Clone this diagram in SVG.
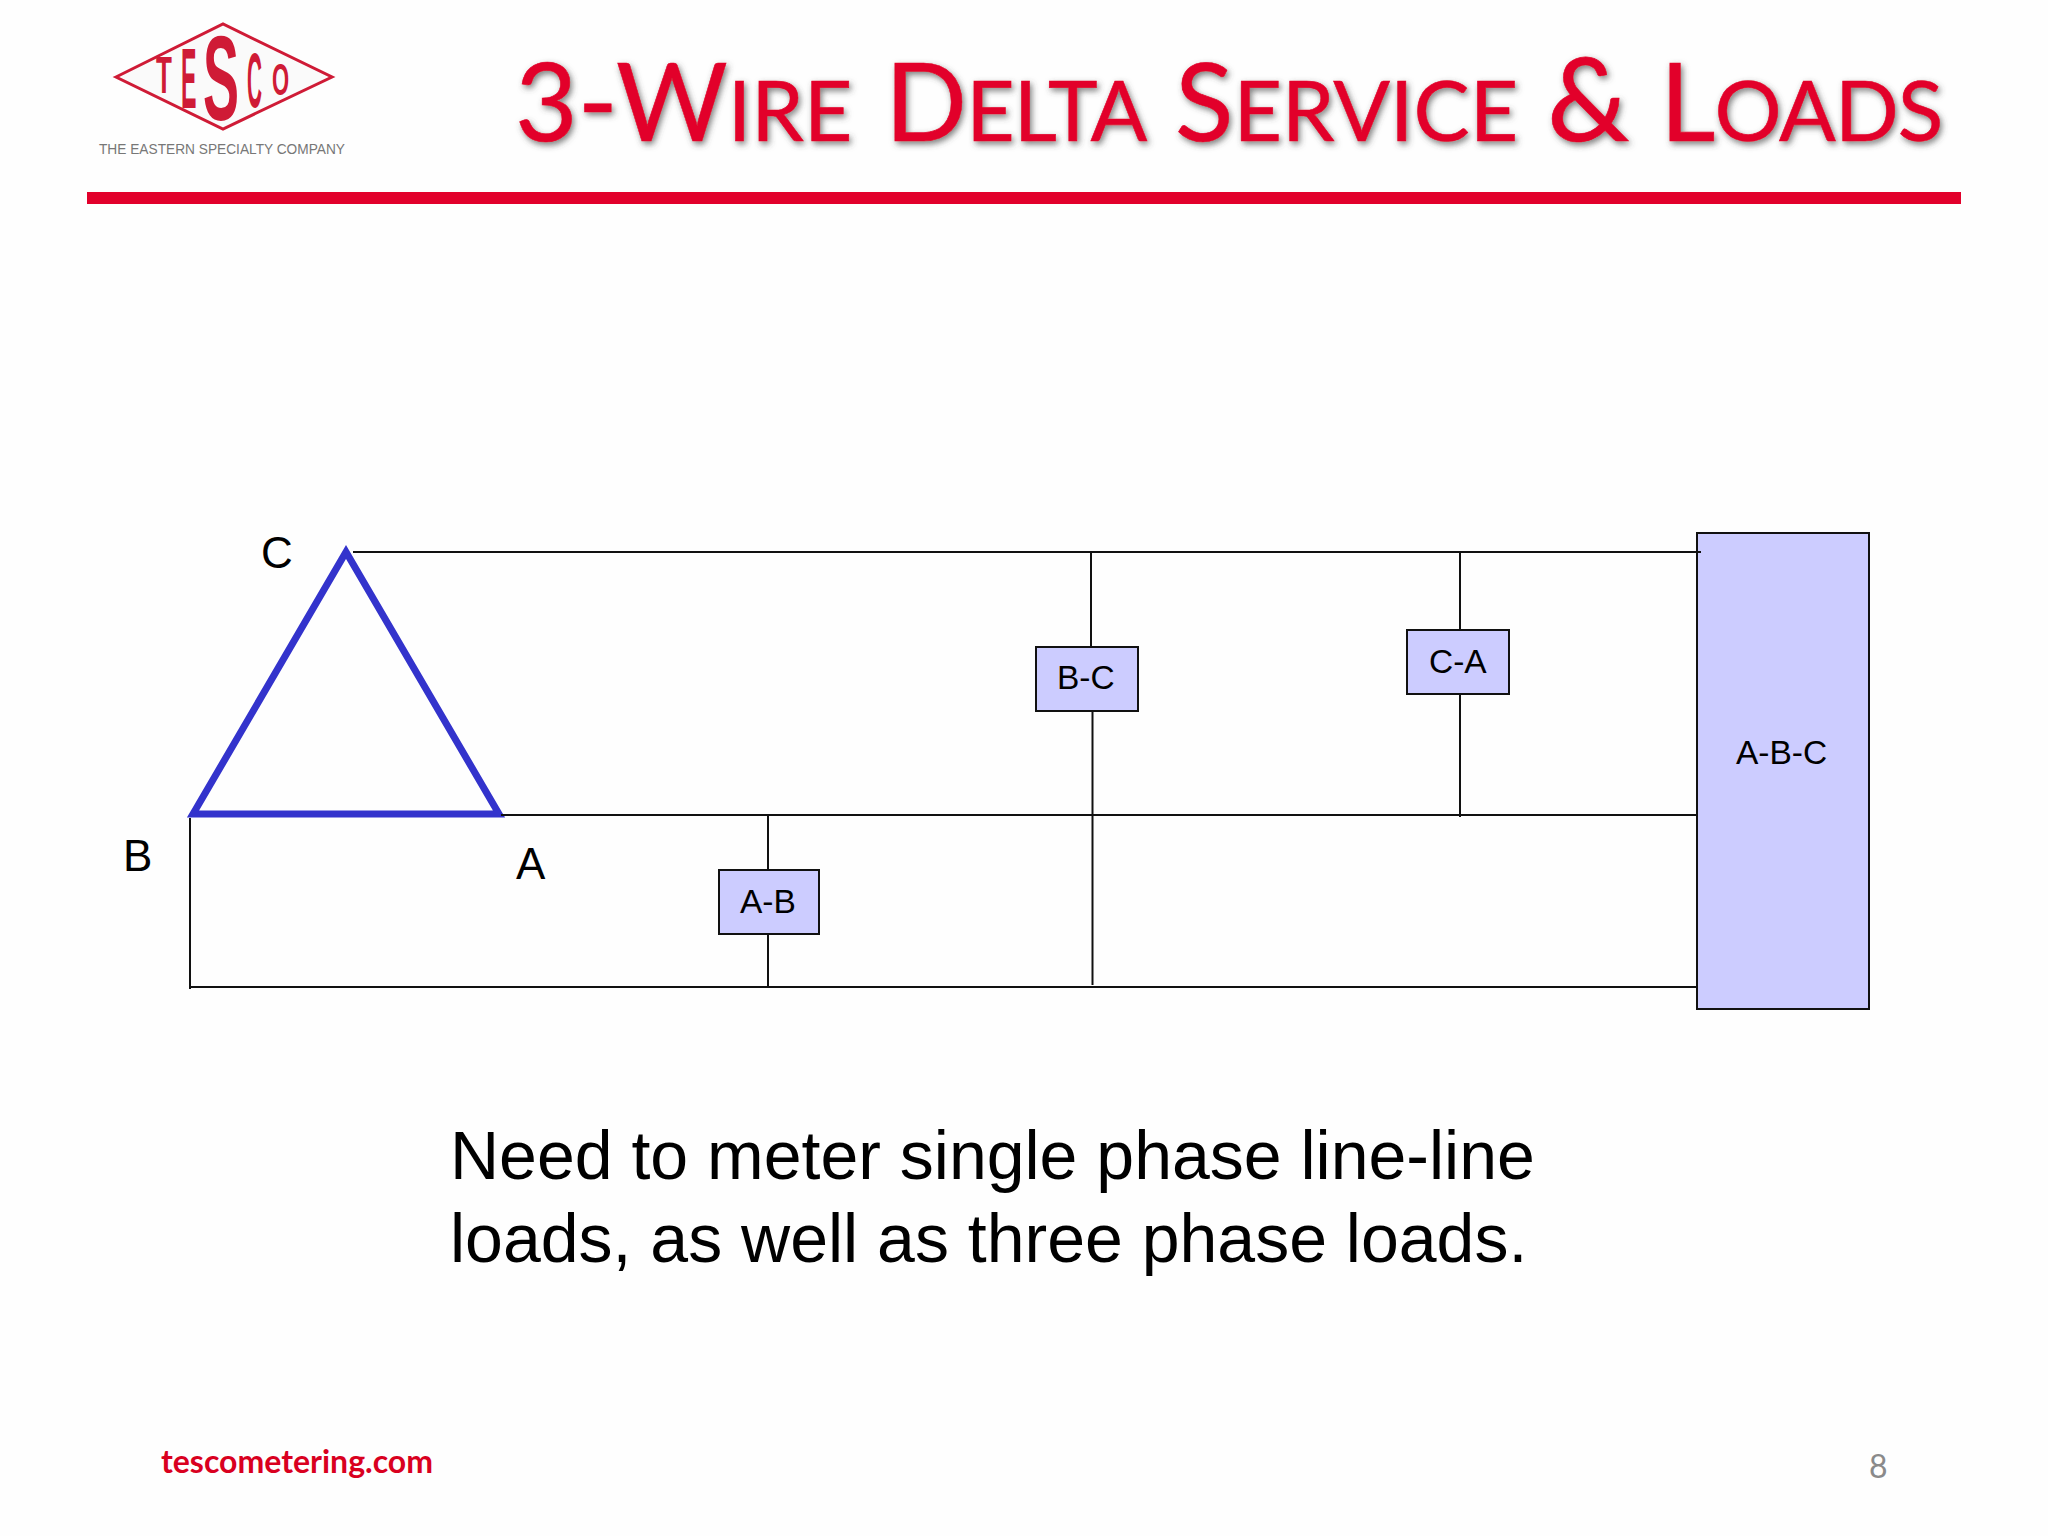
<svg xmlns="http://www.w3.org/2000/svg" width="2048" height="1536" viewBox="0 0 2048 1536">
<style>
.w{stroke:#111;stroke-width:2;fill:none}
.box{fill:#ccccff;stroke:#111;stroke-width:2}
.lbl{font-family:"Liberation Sans",Arial,sans-serif;fill:#000}
.s{font-size:33.5px}
.p{font-size:44px}
.b{font-size:68px}
.t{font-family:Lato,"Noto Sans",sans-serif;fill:#e2002b;stroke:#e2002b;stroke-width:.6px;font-size:108px;filter:url(#sh)}
.sc{font-size:84px}
.amp{font-size:116px}
.tight{letter-spacing:-1px}
.lg{font-family:"Liberation Sans",Arial,sans-serif;font-weight:bold;fill:#cf1b36;font-size:40px}
</style>
<defs><filter id="sh" x="-2%" y="-10%" width="104%" height="125%"><feDropShadow dx="2" dy="3" stdDeviation="3" flood-color="#444" flood-opacity=".7"/></filter></defs>
<rect width="2048" height="1536" fill="#fefefe"/>
<g id="logo">
<polygon points="116,77 223,24 332,77 223,129" fill="#fafafa" stroke="#cf1b36" stroke-width="3"/>
<text class="lg" transform="translate(156,93) scale(.65,1.3)">T</text>
<text class="lg" transform="translate(181,108) scale(.58,2.15)">E</text>
<text class="lg" transform="translate(203,120) scale(1.35,3)">S</text>
<text class="lg" transform="translate(247,107) scale(.52,1.95)">C</text>
<text class="lg" transform="translate(272,95) scale(.55,1.1)">O</text>
<text x="99" y="154" font-family="Liberation Sans,sans-serif" font-size="15.500" fill="#777" textLength="246" lengthAdjust="spacingAndGlyphs">THE EASTERN SPECIALTY COMPANY</text>
</g>
<g id="title"><text class="t" y="141"><tspan x="515">3-W<tspan class="sc">IRE</tspan></tspan> <tspan x="885" class="tight">D<tspan class="sc">ELTA</tspan></tspan> <tspan x="1175">S<tspan class="sc">ERVICE</tspan></tspan> <tspan x="1547" class="amp">&amp;</tspan> <tspan x="1660" class="tight">L<tspan class="sc">OADS</tspan></tspan></text></g>
<rect id="rule" x="87" y="192" width="1874" height="12" fill="#e2002b"/>
<g id="delta"><path d="M193 814H499L346 552Z" fill="none" stroke="#3333cc" stroke-width="7"/></g>
<g id="lblC"><text class="lbl p" x="261" y="568">C</text></g>
<g id="lblB"><text class="lbl p" x="123" y="871">B</text></g>
<g id="lblA"><text class="lbl p" x="516" y="879">A</text></g>
<g id="AB"><rect class="box" x="719" y="870" width="100" height="64"/><text class="lbl s" x="740" y="913">A-B</text></g>
<g id="BC"><rect class="box" x="1036" y="647" width="102" height="64"/><text class="lbl s" x="1057" y="689">B-C</text></g>
<g id="CA"><rect class="box" x="1407" y="630" width="102" height="64"/><text class="lbl s" x="1429" y="673">C-A</text></g>
<g id="ABC"><rect class="box" x="1697" y="533" width="172" height="476"/><text class="lbl s" x="1736" y="764">A-B-C</text></g>
<g id="connectors">
<path class="w" d="M353 552H1701"/>
<path class="w" d="M501 815H1697"/>
<path class="w" d="M190 818V989M189 987H1697"/>
<path class="w" d="M1091 553V647M1092.500 711V985"/>
<path class="w" d="M1460 552V630M1460 694V817"/>
<path class="w" d="M768 815V870M768 934V988"/>
</g>
<g id="body"><text class="lbl b" x="450" y="1179">Need to meter single phase line-line</text><text class="lbl b" x="450" y="1262">loads, as well as three phase loads.</text></g>
<text id="url" x="161" y="1473" font-family="Lato,sans-serif" font-weight="bold" font-size="32" fill="#d9001f">tescometering.com</text>
<text id="page" x="1869" y="1478" font-family="Lato,sans-serif" font-size="32" fill="#8a8a8a">8</text>
</svg>
